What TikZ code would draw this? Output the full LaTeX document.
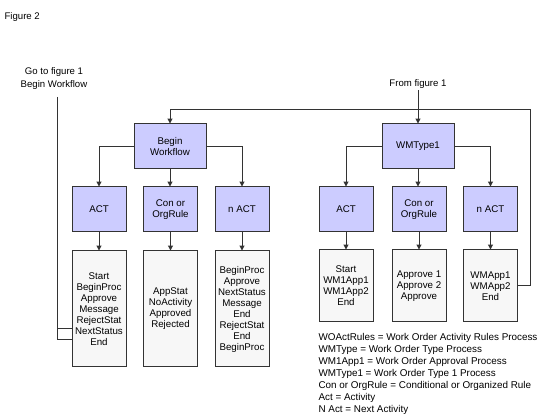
\documentclass[tikz,border=0pt]{standalone}
\usepackage{fontspec}
\setmainfont{Liberation Sans}
\usetikzlibrary{arrows.meta}
\begin{document}
\begin{tikzpicture}[x=0.75pt,y=-0.75pt,
  every node/.style={inner sep=1pt},
  txt/.style={font=\fontsize{7.2pt}{9.75pt}\selectfont, align=center},
  lg/.style={font=\fontsize{7.4pt}{9pt}\selectfont, align=left},
  upper/.style={draw=black!80, line width=0.75pt, fill={rgb,255:red,204;green,204;blue,255},
    minimum width=40.5pt, minimum height=33.75pt, align=center,
    font=\fontsize{7.3pt}{8.25pt}\selectfont},
  top/.style={upper, minimum width=54pt},
  lower/.style={draw=black!80, line width=0.75pt, fill={rgb,255:red,247;green,247;blue,247},
    minimum width=40.5pt, align=center, font=\fontsize{7.3pt}{8.25pt}\selectfont},
  ln/.style={draw=black!80, line width=0.75pt},
  arr/.style={ln, -{Triangle[length=3.6pt,width=3.6pt]}}]
\useasboundingbox (0,0) rectangle (544,417);

\node[anchor=west, txt] (fig) at (3,17) {Figure 2};
\node[txt] (goto) at (54,78.5) {Go to figure 1\\Begin Workflow};
\node[txt] (from1) at (418,84) {From figure 1};

% left tree
\node[top] (bw) at (170,146.5) {Begin\\Workflow};
\node[upper] (lact) at (99,209.5) {ACT};
\node[upper] (lcon) at (170.5,209.5) {Con or\\OrgRule};
\node[upper] (lnact) at (242,209.5) {n ACT};
\node[lower, minimum height=87pt] (lactL) at (99,309) {Start\\BeginProc\\Approve\\Message\\RejectStat\\NextStatus\\End};
\node[lower, minimum height=87pt] (lconL) at (170.5,309) {AppStat\\NoActivity\\Approved\\Rejected};
\node[lower, minimum height=87pt] (lnactL) at (242,309) {BeginProc\\Approve\\NextStatus\\Message\\End\\RejectStat\\End\\BeginProc};

% right tree
\node[top] (wm) at (418,146.5) {WMType1};
\node[upper] (ract) at (346,209.5) {ACT};
\node[upper] (rcon) at (419,209.5) {Con or\\OrgRule};
\node[upper] (rnact) at (490.5,209.5) {n ACT};
\node[lower, minimum height=54pt] (ractL) at (346,286) {Start\\WM1App1\\WM1App2\\End};
\node[lower, minimum height=54pt] (rconL) at (419,286) {Approve 1\\Approve 2\\Approve};
\node[lower, minimum height=54pt] (rnactL) at (490.5,286) {WMApp1\\WMApp2\\End};

\node[lg, anchor=west] (legend) at (317,373.5) {WOActRules = Work Order Activity Rules Process\\
WMType = Work Order Type Process\\
WM1App1 = Work Order Approval Process\\
WMType1 = Work Order Type 1 Process\\
Con or OrgRule = Conditional or Organized Rule\\
Act = Activity\\
N Act = Next Activity};

% connectors left
\draw[arr] (bw.west) -| (lact.north);
\draw[arr] (bw.east) -| (lnact.north);
\draw[arr] (bw.south) -- (bw.south |- lcon.north);
\draw[arr] (lact) -- (lactL);
\draw[arr] (lcon) -- (lconL);
\draw[arr] (lnact) -- (lnactL);

% connectors right
\draw[arr] (from1.south) -- (wm.north);
\draw[arr] (wm.west) -| (ract.north);
\draw[arr] (wm.east) -| (rnact.north);
\draw[arr] (wm.south) -- (wm.south |- rcon.north);
\draw[arr] (ract) -- (ractL);
\draw[arr] (rcon) -- (rconL);
\draw[arr] (rnact) -- (rnactL);

% loop back
\coordinate (c1) at (530,110);
\draw[arr] (rnactL.east) -| (c1) -| (bw.north);

% go to figure 1
\coordinate (g1) at (57,97);
\coordinate (g2) at (57,340);
\coordinate (g3) at (57,329);
\draw[ln] (g1) -- (g2) -- (g2 -| lactL.west);
\draw[ln] (g3) -- (g3 -| lactL.west);
\end{tikzpicture}
\end{document}
